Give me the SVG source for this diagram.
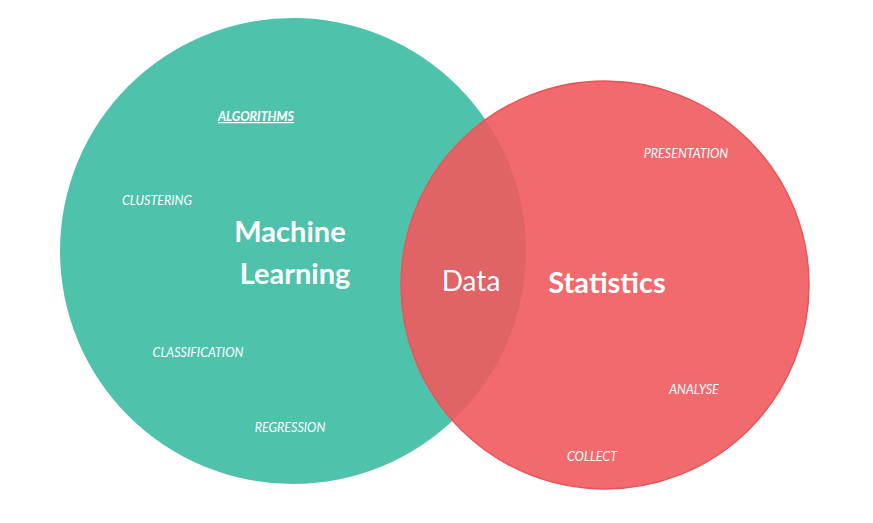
<svg xmlns="http://www.w3.org/2000/svg" width="873" height="523" viewBox="0 0 873 523">
<style>
.s{font-family:Lato,"Liberation Sans",sans-serif;font-style:italic;font-size:12.5px;fill:#fff;text-anchor:middle}
.b{font-family:Lato,"Liberation Sans",sans-serif;font-weight:bold;font-size:29px;fill:#fff;text-anchor:middle}
</style>
<rect width="873" height="523" fill="#fff"/>
<g id="ml">
<circle cx="293" cy="251" r="233" fill="#4fc2ab"/>
</g>
<g id="stats">
<circle cx="605" cy="285" r="204" fill="#f05a5e" fill-opacity="0.9" stroke="#ec5357" stroke-width="1.5"/>
</g>
<g id="labels">
<text class="s" x="256" y="121" text-decoration="underline" font-weight="bold" font-size="14">ALGORITHMS</text>
<text class="s" x="157" y="205">CLUSTERING</text>
<text class="b" x="290" y="242">Machine</text>
<text class="b" x="295" y="284">Learning</text>
<text class="s" x="198" y="357">CLASSIFICATION</text>
<text class="s" x="290" y="432">REGRESSION</text>
<text x="471" y="291" font-family="Lato,'Liberation Sans',sans-serif" font-size="28" fill="#fff" text-anchor="middle">Data</text>
<text class="b" x="607" y="293">Statistics</text>
<text class="s" x="686" y="158">PRESENTATION</text>
<text class="s" x="694" y="394">ANALYSE</text>
<text class="s" x="592" y="461">COLLECT</text>
</g>
<g id="connectors"/>
</svg>
